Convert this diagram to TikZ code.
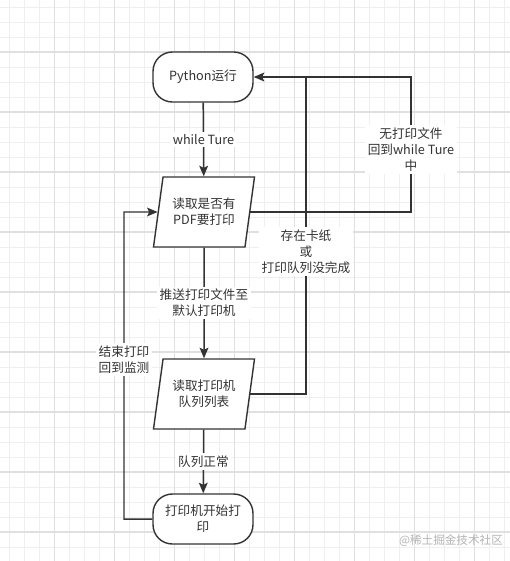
\documentclass[tikz,border=0pt]{standalone}
\usepackage{fontspec}
\setmainfont{Noto Sans CJK SC}
\usetikzlibrary{arrows.meta, shapes.geometric}
\definecolor{fcline}{HTML}{333333}
\definecolor{fctext}{HTML}{333333}
\definecolor{fcgrid}{HTML}{EFEFEF}
\definecolor{fcgridmajor}{HTML}{E0E0E0}
\definecolor{fcmark}{HTML}{B5B5B5}

\begin{document}
\begin{tikzpicture}[
  x=0.02cm, y=-0.02cm,
  every node/.style={font=\fontsize{7.2}{9.1}\selectfont, text=fctext},
  terminal/.style={rectangle, rounded corners=11pt, minimum width=2cm, minimum height=1cm, align=center, draw=fcline, line width=0.8pt, fill=white},
  io/.style={trapezium, trapezium left angle=73, trapezium right angle=107, trapezium stretches body, minimum width=2.02cm, minimum height=1.4cm, inner sep=1pt, align=center, draw=fcline, line width=0.8pt, fill=white},
  flow/.style={draw=fcline, line width=0.85pt},
  arr/.style={flow, -{Stealth[length=6pt, width=5pt, inset=1.2pt]}},
  lbl/.style={fill=white, align=center, inner sep=1.5pt},
]
\useasboundingbox (0,0) rectangle (510,561);

% Background grid
\fill[white] (0,0) rectangle (510,561);
\foreach \gx in {0,...,33} \draw[fcgrid, line width=0.5pt] ({9.5+15*\gx},0) -- ({9.5+15*\gx},561);
\foreach \gy in {0,...,36} \draw[fcgrid, line width=0.5pt] (0,{7+15*\gy}) -- (510,{7+15*\gy});
\foreach \gx in {0,...,7} \draw[fcgridmajor, line width=0.6pt] ({54.5+60*\gx},0) -- ({54.5+60*\gx},561);
\foreach \gy in {0,...,8} \draw[fcgridmajor, line width=0.6pt] (0,{52+60*\gy}) -- (510,{52+60*\gy});

% Steps
\node[terminal] (py) at (203,77) {Python运行};
\node[io] (rd1) at (204,212) {读取是否有\\PDF要打印};
\node[io] (rd2) at (204,394) {读取打印机\\队列列表};
\node[terminal] (prt) at (203,519) {打印机开始打\\印};

% Turning points
\coordinate (rx) at (411,77);
\coordinate (jn) at (306,77);
\coordinate (lx) at (124,212);

% Main flow
\draw[arr] (py) -- node[lbl] {while Ture} (rd1);
\draw[arr] (rd1) -- node[lbl] {推送打印文件至\\默认打印机} (rd2);
\draw[arr] (rd2) -- node[lbl] {队列正常} (prt);

% Loops back
\draw[flow] (rd2.east) -| node[lbl, pos=0.725] {存在卡纸\\或\\打印队列没完成} (jn);
\draw[arr] (rd1.east) -| node[lbl, pos=0.73] {无打印文件\\回到while Ture\\中} (rx) -- (py.east);
\draw[arr] (prt.west) -| node[lbl, pos=0.76] {结束打印\\回到监测} (lx) -- (rd1.west);

% Watermark
\node[text=fcmark, font=\fontsize{6.6}{8}\selectfont] (mark) at (451,541) {@稀土掘金技术社区};

\end{tikzpicture}
\end{document}
